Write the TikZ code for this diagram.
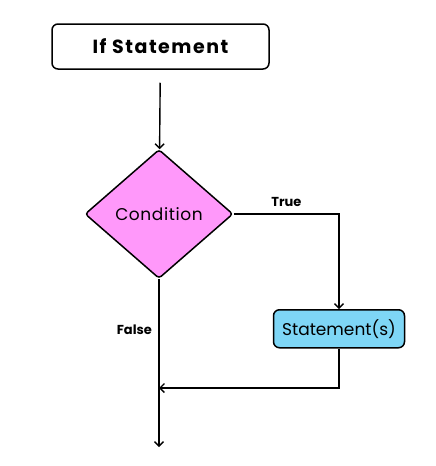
\documentclass[tikz,border=0pt]{standalone}
\usepackage{fontspec}
\setmainfont{Poppins}
\usepackage{xcolor}
\usetikzlibrary{positioning,shapes.geometric,arrows.meta}
\definecolor{condpink}{RGB}{255,152,250}
\definecolor{stmtblue}{RGB}{126,214,246}

\begin{document}
\begin{tikzpicture}[x=1pt,y=-1pt,
every node/.style = {shape=rectangle,
	draw=black, line width=1.5pt,
	align=center,
	font=\fontsize{17}{20}\selectfont
	},
lbl/.style = {draw=none, font=\fontsize{13}{15}\selectfont\bfseries},
arr/.style = {line width=1.4pt, -{Straight Barb[length=4.5pt,width=9pt]}}
]
\useasboundingbox (0,0) rectangle (436,466);
\node[minimum width=217pt,minimum height=45pt,rounded corners=6pt,
	font=\fontsize{19}{21}\selectfont\bfseries\addfontfeatures{LetterSpace=8}]
	(ifs) at (160.5,46.5) {If Statement};
\node[diamond,below=79pt of ifs.south,anchor=north,xshift=-1.5pt,
	minimum width=148pt,minimum height=129pt,inner sep=0pt,
	fill=condpink,rounded corners=3pt,
	font=\fontsize{17}{20}\selectfont\addfontfeatures{LetterSpace=3.5}]
	(cond) {Condition};
\node[anchor=north,minimum width=131pt,minimum height=38pt,
	rounded corners=6pt,fill=stmtblue] (stmt) at (339,309) {Statement(s)};
\coordinate (end) at (cond.south |- 0,447);
\coordinate (join) at (cond.south |- 0,388);
\draw[arr,shorten <=13pt] (ifs) -- (cond);
\draw[arr] (cond.east) -| (stmt.north)
	node[lbl,pos=0.25,above=3pt] (tr) {True};
\draw[arr] (cond.south) -- (end)
	node[lbl,pos=0.3,left=3pt] (fa) {False};
\draw[arr] (stmt.south) |- (join);
\end{tikzpicture}
\end{document}
